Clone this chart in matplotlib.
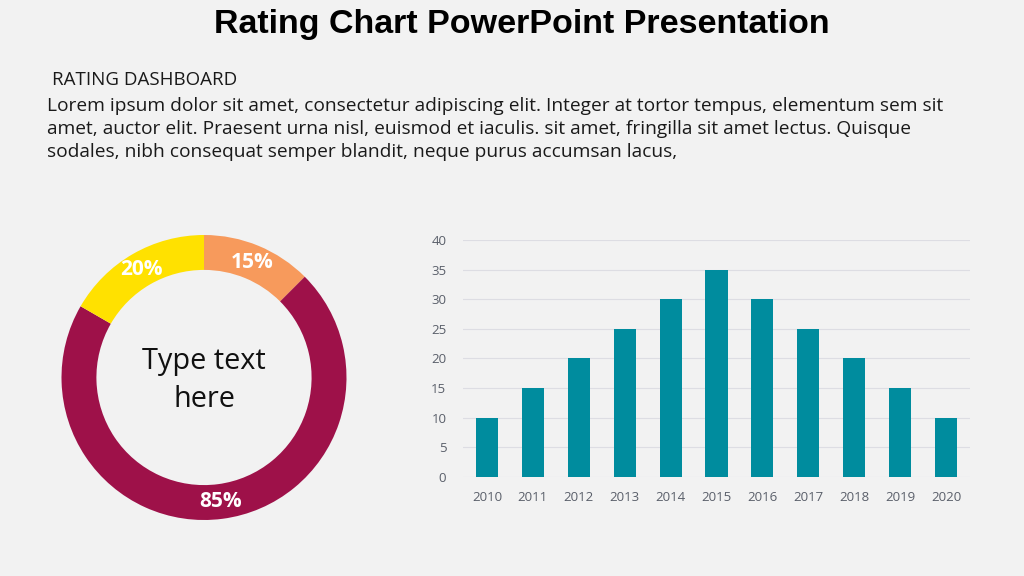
import matplotlib.pyplot as plt

# データ
years = ["2010", "2011", "2012", "2013", "2014", "2015", "2016", "2017", "2018", "2019", "2020"]
ratings = [10, 15, 20, 25, 30, 35, 30, 25, 20, 15, 10]
y_ticks = [0, 5, 10, 15, 20, 25, 30, 35, 40]

ring_values = [15, 85, 20]  # 時計回り: オレンジ, 赤, 黄
ring_labels = ["15%", "85%", "20%"]
ring_colors = ["#F79A5C", "#9E1149", "#FFE100"]

title = "Rating Chart PowerPoint Presentation"
subtitle = "RATING DASHBOARD"
body = ("Lorem ipsum dolor sit amet, consectetur adipiscing elit. Integer at tortor tempus, elementum sem sit\n"
        "amet, auctor elit. Praesent urna nisl, euismod et iaculis. sit amet, fringilla sit amet lectus. Quisque\n"
        "sodales, nibh consequat semper blandit, neque purus accumsan lacus,")
center_text = "Type text\nhere"

bg = "#F2F2F2"
W, H = 1024, 576
fig = plt.figure(figsize=(W/100, H/100), dpi=100, facecolor=bg)

# テキスト
fig.text(522/W, 1-25/H, title, ha="center", va="center", fontsize=24.5,
         fontweight="bold", family="Liberation Sans", color="black")
fig.text(52/W, 1-80/H, subtitle, ha="left", va="center", fontsize=13.5,
         family="Open Sans", color="#1a1a1a")
fig.text(47/W, 1-129/H, body, ha="left", va="center", fontsize=13.8,
         family="Open Sans", color="#1a1a1a", linespacing=1.34)

# ドーナツ
cx, cy, r = 204, 377.5, 142.5
axp = fig.add_axes([(cx-r)/W, (H-cy-r)/H, 2*r/W, 2*r/H])
wedges, texts = axp.pie(ring_values, colors=ring_colors, startangle=90, counterclock=False,
                        radius=1.0, labels=ring_labels, labeldistance=0.875,
                        wedgeprops=dict(width=0.245, edgecolor="none"),
                        textprops=dict(color="white", fontsize=15, fontweight="bold",
                                       family="Open Sans"))
for t in texts:
    t.set_ha("center")
    t.set_va("center")
axp.text(0, -0.02, center_text, ha="center", va="center", fontsize=20.8,
         family="Open Sans", color="#111111", linespacing=1.38)
axp.set_xlim(-1, 1)
axp.set_ylim(-1, 1)
axp.set_aspect("auto")
axp.axis("off")

# 棒グラフ
ax = fig.add_axes([463/W, (H-476.7)/H, 507/W, (476.7-240)/H])
ax.set_facecolor(bg)
x = range(len(years))
ax.bar(x, ratings, width=0.48, color="#008C9E", zorder=3)
ax.set_xlim(-0.52, 10.52)
ax.set_ylim(0, 40)
ax.set_yticks(y_ticks)
ax.set_xticks(list(x))
ax.set_xticklabels(years)
ax.grid(axis="y", color="#DDDDE3", linewidth=0.8, zorder=0)
for s in ax.spines.values():
    s.set_visible(False)
ax.tick_params(length=0, labelsize=9.5, colors="#5A5F6A", pad=10)
for lab in ax.get_xticklabels() + ax.get_yticklabels():
    lab.set_family("Open Sans")
ax.tick_params(axis="y", pad=12)

fig.savefig("out.png", dpi=100, facecolor=bg)
